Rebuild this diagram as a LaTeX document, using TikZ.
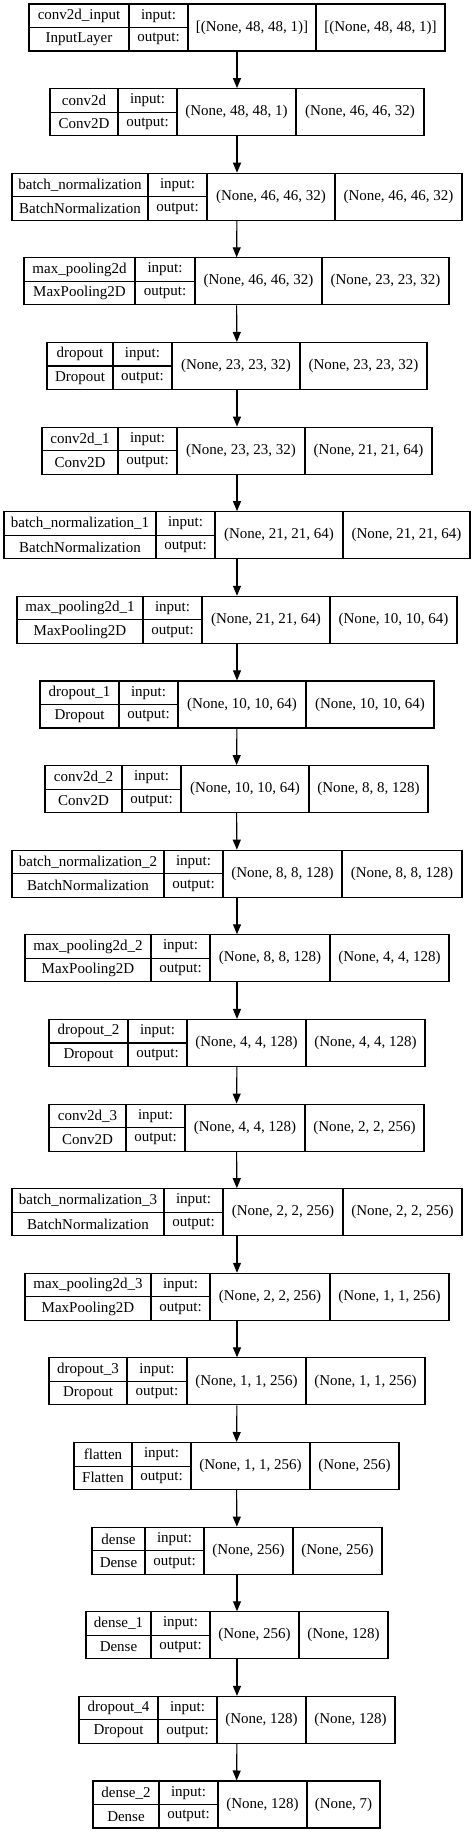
\documentclass[tikz,border=0pt]{standalone}
\usepackage{fontspec}
\setmainfont{Liberation Serif}
\usetikzlibrary{arrows.meta}

\tikzset{
  layer/.style={draw, line width=1.1pt, inner sep=0pt, minimum height=47pt},
  cell/.style={line width=1.1pt},
  txt/.style={inner sep=0pt, anchor=center},
  flow/.style={line width=1.1pt, -{Triangle[length=10pt,width=8pt]}}
}

\begin{document}
\begin{tikzpicture}[x=1pt,y=-1pt,font=\fontsize{15}{18}\selectfont]
  \useasboundingbox (0,0) rectangle (474,1832);
% one record per layer: index/left/dividers/right/name/class/input/output
  \foreach \i/\xa/\xb/\xc/\xd/\xe/\lab/\cls/\ishape/\oshape in {
    0/29/129/188/316/445/conv2d\_input/InputLayer/{[(None, 48, 48, 1)]}/{[(None, 48, 48, 1)]},
    1/50/118/177/296/424/conv2d/Conv2D/{(None, 48, 48, 1)}/{(None, 46, 46, 32)},
    2/12/148/207/335/462/batch\_normalization/BatchNormalization/{(None, 46, 46, 32)}/{(None, 46, 46, 32)},
    3/24/135/195/322/449/max\_pooling2d/MaxPooling2D/{(None, 46, 46, 32)}/{(None, 23, 23, 32)},
    4/47/113/172/300/427/dropout/Dropout/{(None, 23, 23, 32)}/{(None, 23, 23, 32)},
    5/42/118/177/305/432/conv2d\_1/Conv2D/{(None, 23, 23, 32)}/{(None, 21, 21, 64)},
    6/4/156/215/343/470/batch\_normalization\_1/BatchNormalization/{(None, 21, 21, 64)}/{(None, 21, 21, 64)},
    7/17/143/202/330/457/max\_pooling2d\_1/MaxPooling2D/{(None, 21, 21, 64)}/{(None, 10, 10, 64)},
    8/40/119/178/306/434/dropout\_1/Dropout/{(None, 10, 10, 64)}/{(None, 10, 10, 64)},
    9/45/122/181/309/428/conv2d\_2/Conv2D/{(None, 10, 10, 64)}/{(None, 8, 8, 128)},
    10/12/164/223/342/462/batch\_normalization\_2/BatchNormalization/{(None, 8, 8, 128)}/{(None, 8, 8, 128)},
    11/25/151/210/330/449/max\_pooling2d\_2/MaxPooling2D/{(None, 8, 8, 128)}/{(None, 4, 4, 128)},
    12/49/128/187/306/425/dropout\_2/Dropout/{(None, 4, 4, 128)}/{(None, 4, 4, 128)},
    13/49/126/185/305/424/conv2d\_3/Conv2D/{(None, 4, 4, 128)}/{(None, 2, 2, 256)},
    14/12/164/223/343/462/batch\_normalization\_3/BatchNormalization/{(None, 2, 2, 256)}/{(None, 2, 2, 256)},
    15/25/151/210/330/449/max\_pooling2d\_3/MaxPooling2D/{(None, 2, 2, 256)}/{(None, 1, 1, 256)},
    16/49/127/187/306/425/dropout\_3/Dropout/{(None, 1, 1, 256)}/{(None, 1, 1, 256)},
    17/74/132/191/310/399/flatten/Flatten/{(None, 1, 1, 256)}/{(None, 256)},
    18/92/145/204/293/382/dense/Dense/{(None, 256)}/{(None, 256)},
    19/86/151/210/299/388/dense\_1/Dense/{(None, 256)}/{(None, 128)},
    20/79/158/217/306/395/dropout\_4/Dropout/{(None, 128)}/{(None, 128)},
    21/93/159/218/307/380/dense\_2/Dense/{(None, 128)}/{(None, 7)}} {
    \pgfmathsetmacro\t{4+84.62*\i}
    \pgfmathsetmacro\w{\xe-\xa}
    \node[layer, minimum width=\w pt] (L\i) at ({(\xa+\xe)/2},{\t+23.5}) {};
    \draw[cell] (\xb,\t) -- ++(0,47) (\xc,\t) -- ++(0,47) (\xd,\t) -- ++(0,47)
      (\xa,\t+23.5) -- (\xc,\t+23.5);
    \node[txt] (L\i-name) at ({(\xa+\xb)/2},{\t+11.75}) {\lab};
    \node[txt] (L\i-cls) at ({(\xa+\xb)/2},{\t+35.25}) {\cls};
    \node[txt] (L\i-inl) at ({(\xb+\xc)/2},{\t+11.75}) {input:};
    \node[txt] (L\i-outl) at ({(\xb+\xc)/2},{\t+35.25}) {output:};
    \node[txt] (L\i-in) at ({(\xc+\xd)/2},{\t+23.5}) {\ishape};
    \node[txt] (L\i-out) at ({(\xd+\xe)/2},{\t+23.5}) {\oshape};
  }
% connectors
  \foreach \j [remember=\j as \i (initially 0)] in {1,...,21}
    \draw[flow] (L\i) -- (L\j);
\end{tikzpicture}
\end{document}
